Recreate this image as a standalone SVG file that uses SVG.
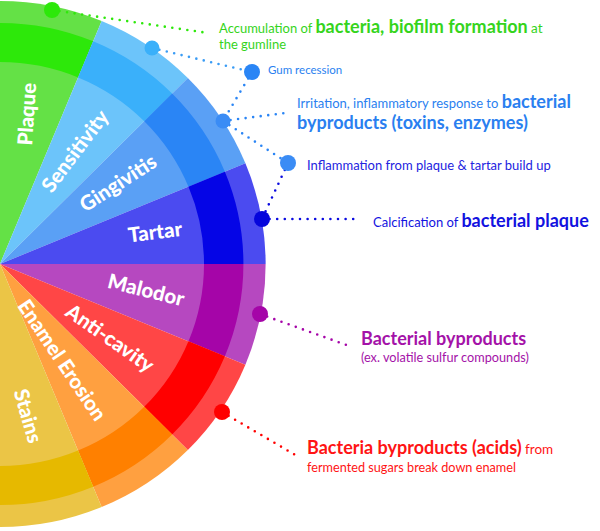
<svg xmlns="http://www.w3.org/2000/svg" width="600" height="531" viewBox="0 0 600 531">
<style>
.lbl{font-family:Lato,"Open Sans",sans-serif;font-weight:900;font-size:20.5px;fill:#fff;text-anchor:middle}
.t{font-family:Lato,"Open Sans",sans-serif;font-size:13px}
.b{font-weight:700;font-size:18px}
.dl{fill:none;stroke-width:2.6;stroke-linecap:round;stroke-dasharray:0 7.6}
</style>
<rect width="600" height="531" fill="#fff"/>
<g id="wheel" transform="translate(0,264) scale(1.01,1)">
<g id="plaque">
<path fill="#64e146" d="M0,0 L0,-263 A263,263 0 0 1 100.65,-242.98 Z"/>
<path fill="#2de80a" d="M0,-241 A241,241 0 0 1 92.23,-222.65 L77.30,-186.62 A202,202 0 0 0 0,-202 Z"/>
</g>
<g id="sensitivity">
<path fill="#6cc4fa" d="M0,0 L100.65,-242.98 A263,263 0 0 1 185.97,-185.97 Z"/>
<path fill="#3ab0fa" d="M92.23,-222.65 A241,241 0 0 1 170.41,-170.41 L142.84,-142.84 A202,202 0 0 0 77.30,-186.62 Z"/>
</g>
<g id="gingivitis">
<path fill="#5aa0f5" d="M0,0 L185.97,-185.97 A263,263 0 0 1 242.98,-100.65 Z"/>
<path fill="#2a85f5" d="M170.41,-170.41 A241,241 0 0 1 222.65,-92.23 L186.62,-77.30 A202,202 0 0 0 142.84,-142.84 Z"/>
</g>
<g id="tartar">
<path fill="#4b4bf0" d="M0,0 L242.98,-100.65 A263,263 0 0 1 263,0 Z"/>
<path fill="#0505e6" d="M222.65,-92.23 A241,241 0 0 1 241,0 L202,0 A202,202 0 0 0 186.62,-77.30 Z"/>
</g>
<g id="malodor">
<path fill="#b648c0" d="M0,0 L263,0 A263,263 0 0 1 242.98,100.65 Z"/>
<path fill="#a505a8" d="M241,0 A241,241 0 0 1 222.65,92.23 L186.62,77.30 A202,202 0 0 0 202,0 Z"/>
</g>
<g id="anticavity">
<path fill="#ff4646" d="M0,0 L242.98,100.65 A263,263 0 0 1 185.97,185.97 Z"/>
<path fill="#ff0000" d="M222.65,92.23 A241,241 0 0 1 170.41,170.41 L142.84,142.84 A202,202 0 0 0 186.62,77.30 Z"/>
</g>
<g id="enamel">
<path fill="#ffa040" d="M0,0 L185.97,185.97 A263,263 0 0 1 100.65,242.98 Z"/>
<path fill="#ff8000" d="M170.41,170.41 A241,241 0 0 1 92.23,222.65 L77.30,186.62 A202,202 0 0 0 142.84,142.84 Z"/>
</g>
<g id="stains">
<path fill="#ebc546" d="M0,0 L100.65,242.98 A263,263 0 0 1 0,263 Z"/>
<path fill="#e6b900" d="M92.23,222.65 A241,241 0 0 1 0,241 L0,202 A202,202 0 0 0 77.30,186.62 Z"/>
</g>
</g>
<g id="labels">
<text class="lbl" transform="translate(27,114) rotate(-86)" dy="0.35em">Plaque</text>
<text class="lbl" transform="translate(75,151) rotate(-53)" dy="0.35em">Sensitivity</text>
<text class="lbl" transform="translate(118,183) rotate(-33)" dy="0.35em">Gingivitis</text>
<text class="lbl" transform="translate(155,232) rotate(-7)" dy="0.35em">Tartar</text>
<text class="lbl" transform="translate(146,290) rotate(14)" dy="0.35em">Malodor</text>
<text class="lbl" transform="translate(110,338) rotate(35)" dy="0.35em">Anti-cavity</text>
<text class="lbl" transform="translate(62,360) rotate(56)" dy="0.35em">Enamel Erosion</text>
<text class="lbl" transform="translate(28,416) rotate(74)" dy="0.35em">Stains</text>
</g>
<g id="connectors">
<path class="dl" stroke="#2de80a" d="M52,10 L208,33"/>
<path class="dl" stroke="#3a9cf5" d="M152,48 L252,72"/>
<path class="dl" stroke="#2a85f5" d="M252,72 L223,121"/>
<path class="dl" stroke="#2a85f5" d="M223,121 L285,113"/>
<path class="dl" stroke="#2a85f5" d="M223,121 L288,163"/>
<path class="dl" stroke="#0a0ae0" d="M288,163 L262,219"/>
<path class="dl" stroke="#0a0ae0" d="M262,219 L358,219"/>
<path class="dl" stroke="#a505a8" d="M260,314 L352,347"/>
<path class="dl" stroke="#ff0000" d="M222,412 L297,456"/>
</g>
<g id="dots">
<circle cx="52" cy="10" r="8" fill="#2de80a"/>
<circle cx="152" cy="48" r="7.5" fill="#3ab0fa"/>
<circle cx="252" cy="72" r="8" fill="#2a85f5"/>
<circle cx="223" cy="121" r="7.5" fill="#3a8cf5"/>
<circle cx="288" cy="163" r="8" fill="#3a8cf5"/>
<circle cx="262" cy="219" r="8" fill="#0505dc"/>
<circle cx="260" cy="314" r="8" fill="#a505a8"/>
<circle cx="222" cy="412" r="8" fill="#ff0000"/>
</g>
<g id="n-plaque-note" class="t" fill="#35d41c">
<text x="219" y="33">Accumulation of <tspan class="b">bacteria, biofilm formation</tspan> <tspan font-size="13.5">at</tspan></text>
<text x="219" y="49">the gumline</text>
</g>
<g id="n-gum" class="t" fill="#2a7ff0">
<text x="268" y="74" font-size="11.5">Gum recession</text>
</g>
<g id="n-irritation" class="t" fill="#2a7ff0">
<text x="297" y="108">Irritation, inflammatory response to <tspan class="b">bacterial</tspan></text>
<text x="297" y="129" class="b">byproducts (toxins, enzymes)</text>
</g>
<g id="n-inflammation" class="t" fill="#2323e0">
<text x="307" y="170">Inflammation from plaque &amp; tartar build up</text>
</g>
<g id="n-calcification" class="t" fill="#1212e0">
<text x="373" y="227">Calcification of <tspan class="b">bacterial plaque</tspan></text>
</g>
<g id="n-malodor" class="t" fill="#a412a8">
<text x="361" y="345" class="b">Bacterial byproducts</text>
<text x="361" y="362" font-size="12.7">(ex. volatile sulfur compounds)</text>
</g>
<g id="n-acids" class="t" fill="#ff1414">
<text x="307" y="454"><tspan class="b">Bacteria byproducts (acids)</tspan> <tspan font-size="13.5">from</tspan></text>
<text x="307" y="472" font-size="12.7">fermented sugars break down enamel</text>
</g>
</svg>
